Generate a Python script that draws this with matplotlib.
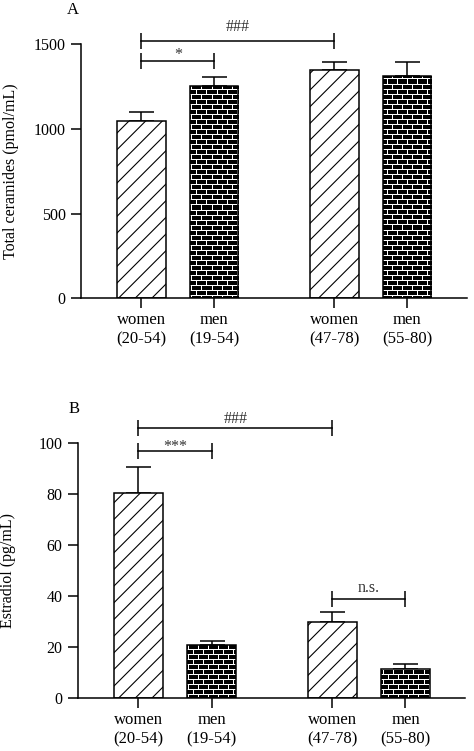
import numpy as np
import matplotlib
matplotlib.use("Agg")
import matplotlib.pyplot as plt

plt.rcParams['font.family'] = ['Liberation Serif', 'DejaVu Serif']
plt.rcParams['hatch.linewidth'] = 0.8

groups = ["women\n(20-54)", "men\n(19-54)", "women\n(47-78)", "men\n(55-80)"]
is_men = [False, True, False, True]

cer_mean = [1049, 1256, 1347, 1313]
cer_err = [50, 53, 51, 83]
cer_brackets = [("###", 0, 2, 1521), ("*", 0, 1, 1400)]

e2_mean = [80.4, 20.7, 29.9, 11.4]
e2_err = [10.2, 1.7, 3.9, 1.7]
e2_brackets = [("###", 0, 2, 105.9), ("***", 0, 1, 96.9), ("n.s.", 2, 3, 38.7)]

xpos = np.array([0, 1, 2.65, 3.65])


def brick_texture(w, h, bw=10, bh=5):
    # 1 = white mortar, 0 = black brick
    tex = np.zeros((h, w))
    for r in range(h):
        row = r // bh
        if r % bh == 0:
            tex[r, :] = 1
            continue
        off = 0 if row % 2 == 0 else bw // 2
        for c in range(w):
            if (c + off) % bw == 0:
                tex[r, c] = 1
    return tex


def panel(ax, mean, err, brackets, text_pad, ylim, yticks, ylabel):
    bars = ax.bar(xpos, mean, width=0.665, color='white', edgecolor='black',
                  linewidth=1.1, zorder=2)
    for b, m in zip(bars, is_men):
        if m:
            b.set_facecolor('none')
        else:
            b.set_hatch('//')
    ax.errorbar(xpos, mean, yerr=[[0] * len(mean), err], fmt='none',
                ecolor='black', elinewidth=1.1, capsize=9, capthick=1.1, zorder=1)

    bb = ax.get_window_extent()
    tex = brick_texture(int(bb.width), int(bb.height))
    for b, m in zip(bars, is_men):
        if m:
            im = ax.imshow(tex, extent=(0, 1, 0, 1), transform=ax.transAxes,
                           cmap='gray', vmin=0, vmax=1, interpolation='nearest',
                           aspect='auto', zorder=1.5)
            im.set_clip_path(b)

    ax.set_xlim(-0.83, 4.47)
    ax.set_ylim(*ylim)
    ax.set_yticks(yticks)
    ax.set_xticks(xpos)
    ax.set_xticklabels(groups, fontsize=12, linespacing=1.3)
    ax.tick_params(axis='y', labelsize=11.5, length=7, width=1.1, pad=4)
    ax.tick_params(axis='x', length=7, width=1.1, pad=3)
    for s in ['top', 'right']:
        ax.spines[s].set_visible(False)
    for s in ['left', 'bottom']:
        ax.spines[s].set_linewidth(1.1)
    ax.set_ylabel(ylabel, fontsize=11.5)
    ax.yaxis.set_label_coords(-0.16, 0.5)

    for (txt, i, j, y), pad in zip(brackets, text_pad):
        ax.plot([xpos[i], xpos[j]], [y, y], color='black', lw=1.1, marker='|',
                ms=11.5, mew=1.1, clip_on=False)
        ax.annotate(txt, ((xpos[i] + xpos[j]) / 2, y), xytext=(0, pad),
                    textcoords='offset points', ha='center', va='baseline',
                    fontsize=11.5, color='#333333', annotation_clip=False)


fig = plt.figure(figsize=(4.74, 7.51), dpi=100)
axA = fig.add_axes([0.171, 0.6028, 0.814, 0.338])
axB = fig.add_axes([0.164, 0.071, 0.818, 0.3387])

panel(axA, cer_mean, cer_err, cer_brackets, [7, 2], (0, 1500),
      [0, 500, 1000, 1500], "Total ceramides (pmol/mL)")
panel(axB, e2_mean, e2_err, e2_brackets, [4, 0.5, 5.5], (0, 100),
      [0, 20, 40, 60, 80, 100], "Estradiol (pg/mL)")

fig.text(73 / 474, 1 - 9.5 / 751, "A", fontsize=12, ha='center', va='center')
fig.text(74 / 474, 1 - 409 / 751, "B", fontsize=12, ha='center', va='center')

fig.savefig("out.png", dpi=100)
